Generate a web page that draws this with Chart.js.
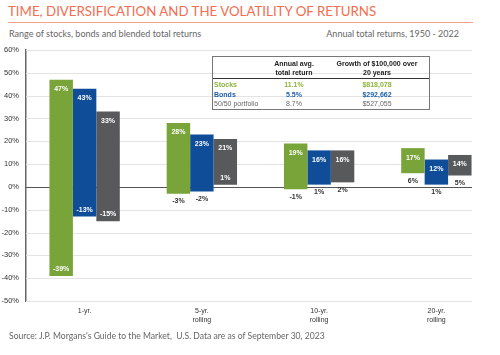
<!DOCTYPE html>
<html><head><meta charset="utf-8">
<script src="https://cdn.jsdelivr.net/npm/chart.js@4"></script>
<style>
html,body{margin:0;padding:0;background:#fff;}
body{width:500px;height:355px;position:relative;overflow:hidden;}
#c{position:absolute;left:0;top:0;}
.t{position:absolute;white-space:nowrap;}
#title{left:8px;top:3px;font-family:Lato,sans-serif;font-size:13.3px;color:#f26e50;letter-spacing:0px;}
#rule{position:absolute;left:8px;top:22px;width:465px;height:1px;background:#f4a08a;}
#sub1{left:9px;top:28px;font-family:Lato,sans-serif;font-size:9px;color:#666;}
#sub2{right:41px;top:28px;font-family:Lato,sans-serif;font-size:9px;color:#666;}
#src{left:9px;top:331px;font-family:Lato,sans-serif;font-size:8.6px;color:#666;}
#tbl{position:absolute;left:212px;top:56px;width:216px;height:52px;border:1px solid #777;font-family:"Liberation Sans",Arial,sans-serif;font-size:7px;}
#tbl .h{position:absolute;font-weight:bold;color:#222;text-align:center;line-height:9px;}
#tbl .r{position:absolute;line-height:9px;}
#tbl .hr{position:absolute;left:0;right:0;top:21px;height:1px;background:#333;}
</style></head>
<body>
<div class="t" id="title">TIME, DIVERSIFICATION AND THE VOLATILITY OF RETURNS</div>
<div id="rule"></div>
<div class="t" id="sub1">Range of stocks, bonds and blended total returns</div>
<div class="t" id="sub2">Annual total returns, 1950 - 2022</div>
<canvas id="c" width="500" height="355"></canvas>
<div id="tbl"></div>
<div class="t" id="src">Source: J.P. Morgans's Guide to the Market,&nbsp; U.S. Data are as of September 30, 2023</div>
<script>
// ---- data ----
const categories = [['1-yr.'], ['5-yr.', 'rolling'], ['10-yr.', 'rolling'], ['20-yr.', 'rolling']];
const seriesNames = ['Stocks', 'Bonds', '50/50 portfolio'];
const stocksHigh = [47, 28, 19, 17];
const stocksLow = [-39, -3, -1, 6];
const bondsHigh = [43, 23, 16, 12];
const bondsLow = [-13, -2, 1, 1];
const blendHigh = [33, 21, 16, 14];
const blendLow = [-15, 1, 2, 5];
const yTickValues = [60, 50, 40, 30, 20, 10, 0, -10, -20, -30, -40, -50];
const tableHeaderAvg = ['Annual avg.', 'total return'];
const tableHeaderGrowth = ['Growth of $100,000 over', '20 years'];
const tableAvg = ['11.1%', '5.5%', '8.7%'];
const tableGrowth = ['$818,078', '$292,662', '$527,055'];

const colors = ['#79a43a', '#0f4d98', '#58595b'];
const tableColors = ['#8db33a', '#1f5fa8', '#666666'];

// ---- table ----
const tbl = document.getElementById('tbl');
function add(cls, txt, css) {
  const d = document.createElement('div');
  d.className = cls; d.textContent = txt; Object.assign(d.style, css); tbl.appendChild(d);
}
add('h', tableHeaderAvg.join('\n'), {left: '50px', width: '62px', top: '2px', whiteSpace: 'pre'});
add('h', tableHeaderGrowth.join('\n'), {left: '114px', width: '100px', top: '2px', whiteSpace: 'pre'});
const hr = document.createElement('div'); hr.className = 'hr'; tbl.appendChild(hr);
seriesNames.forEach((n, i) => {
  const top = (23 + i * 9.5) + 'px';
  const bold = i < 2 ? 'bold' : 'normal';
  add('r', n, {left: '1px', top, color: tableColors[i], fontWeight: bold});
  add('r', tableAvg[i], {left: '50px', width: '62px', textAlign: 'center', top, color: tableColors[i], fontWeight: bold});
  add('r', tableGrowth[i], {left: '114px', width: '100px', textAlign: 'center', top, color: tableColors[i], fontWeight: bold});
});

// ---- chart ----
const lows = [stocksLow, bondsLow, blendLow];
const highs = [stocksHigh, bondsHigh, blendHigh];
const datasets = seriesNames.map((n, i) => ({
  label: n,
  data: categories.map((c, j) => [lows[i][j], highs[i][j]]),
  backgroundColor: colors[i],
  borderWidth: 0,
  barPercentage: 1,
  categoryPercentage: 0.6
}));

const GRID_RIGHT = 472;
const gridPlugin = {
  id: 'grid',
  beforeDatasetsDraw(chart) {
    const ctx = chart.ctx, y = chart.scales.y, a = chart.chartArea;
    ctx.save();
    yTickValues.forEach(v => {
      const py = Math.round(y.getPixelForValue(v)) + 0.5;
      ctx.beginPath();
      ctx.strokeStyle = v === 0 ? '#555' : '#e3e3e3';
      ctx.lineWidth = 1;
      ctx.moveTo(a.left, py); ctx.lineTo(GRID_RIGHT, py); ctx.stroke();
    });
    ctx.restore();
  },
  afterDatasetsDraw(chart) {
    const ctx = chart.ctx, y = chart.scales.y;
    ctx.save();
    ctx.font = 'bold 7px "Liberation Sans", Arial, sans-serif';
    ctx.textAlign = 'center'; ctx.textBaseline = 'middle';
    chart.data.datasets.forEach((ds, i) => {
      const meta = chart.getDatasetMeta(i);
      meta.data.forEach((el, j) => {
        const [lo, hi] = ds.data[j];
        const top = y.getPixelForValue(hi), bot = y.getPixelForValue(lo);
        ctx.fillStyle = '#fff';
        ctx.fillText(hi + '%', el.x, top + 9.5);
        const inside = lo <= -10 || (lo > 0 && hi - lo >= 18);
        if (inside) { ctx.fillStyle = '#fff'; ctx.fillText(lo + '%', el.x, bot - 7); }
        else { ctx.fillStyle = '#333'; ctx.fillText(lo + '%', el.x, bot + 7.5); }
      });
    });
    ctx.restore();
  }
};

new Chart(document.getElementById('c'), {
  type: 'bar',
  data: {labels: categories, datasets},
  options: {
    responsive: false,
    animation: false,
    events: [],
    layout: {padding: {top: 50, right: 5, bottom: 0, left: 0}},
    plugins: {legend: {display: false}, tooltip: {enabled: false}},
    scales: {
      x: {
        grid: {display: false, drawTicks: false},
        border: {display: false},
        ticks: {padding: 6, color: '#333', font: {family: '"Liberation Sans", Arial, sans-serif', size: 7}, maxRotation: 0, autoSkip: false},
        afterFit(s) { s.height = 54; }
      },
      y: {
        min: -50, max: 60,
        afterBuildTicks(s) { s.ticks = yTickValues.map(v => ({value: v})); },
        grid: {display: false, drawTicks: false},
        border: {display: true, color: '#666', width: 1.5},
        ticks: {padding: 7, color: '#333', font: {family: '"Liberation Sans", Arial, sans-serif', size: 7.5}, callback: v => v + '%'},
        afterFit(s) { s.width = 26; }
      }
    }
  },
  plugins: [gridPlugin]
});
</script>
</body></html>
